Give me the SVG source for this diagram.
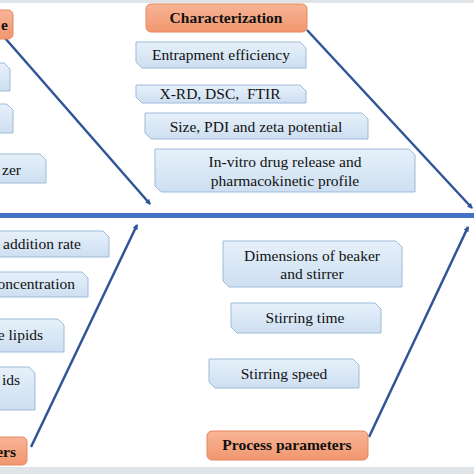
<svg xmlns="http://www.w3.org/2000/svg" width="474" height="474" viewBox="0 0 474 474">
<defs>
<linearGradient id="gBlue" x1="0" y1="0" x2="0" y2="1">
<stop offset="0" stop-color="#E6F0FA"/>
<stop offset="1" stop-color="#CEDFF1"/>
</linearGradient>
<linearGradient id="gOrange" x1="0" y1="0" x2="0" y2="1">
<stop offset="0" stop-color="#F8B496"/>
<stop offset="1" stop-color="#F1976F"/>
</linearGradient>
<marker id="arr" viewBox="0 0 10 10" refX="8" refY="5" markerWidth="2.2" markerHeight="2.2" orient="auto">
<path d="M0,0 L10,5 L0,10 Z" fill="#2F5597"/>
</marker>
</defs>
<style>
.box{fill:url(#gBlue);stroke:#9DBBDA;stroke-width:1}
.cat{fill:url(#gOrange);stroke:#E8865E;stroke-width:1}
.b{font-weight:bold}
.c{text-anchor:middle}
.e{text-anchor:end}
.bone{stroke:#2F5597;stroke-width:2.5;fill:none;marker-end:url(#arr)}
</style>
<rect x="0" y="0" width="474" height="474" fill="#FFFFFF"/>
<rect x="0" y="0" width="474" height="3" fill="#DFE4E8"/>
<rect x="0" y="467" width="474" height="7" fill="#DFE4E8"/>

<g id="connectors">
<line x1="0" y1="215.5" x2="474" y2="215.5" stroke="#4472C4" stroke-width="5"/>
<line x1="5" y1="38" x2="150" y2="204" class="bone"/>
<line x1="307" y1="30" x2="472" y2="208" class="bone"/>
<line x1="31" y1="447" x2="137" y2="225" class="bone"/>
<line x1="369" y1="437" x2="468" y2="227" class="bone"/>
</g>

<g font-family="'Liberation Serif', 'Times New Roman', Tinos, 'DejaVu Serif', serif" font-size="15.5" fill="#111111">
<g id="cat-topleft">
<rect x="-60" y="10" width="73" height="29" rx="5" class="cat"/>
<text x="8" y="30" class="b e">e</text>
</g>
<g id="cat-characterization">
<rect x="146" y="4" width="161" height="28" rx="5" class="cat"/>
<text x="226" y="23" class="b c">Characterization</text>
</g>
<g id="cat-bottomleft">
<rect x="-60" y="437" width="87" height="28" rx="5" class="cat"/>
<text x="16" y="457" class="b e">ers</text>
</g>
<g id="cat-process">
<rect x="207" y="431" width="161" height="29" rx="5" class="cat"/>
<text x="287" y="450" class="b c">Process parameters</text>
</g>

<g id="tl-box1">
<path d="M-60,63 H4 L10,69 V91 H-54 L-60,85 Z" class="box"/>
</g>
<g id="tl-box2">
<path d="M-60,104 H7 L13,110 V133 H-54 L-60,127 Z" class="box"/>
</g>
<g id="tl-box3">
<path d="M-60,154 H40 L46,160 V183 H-54 L-60,177 Z" class="box"/>
<text x="21" y="175" class="e">zer</text>
</g>

<g id="entrapment">
<path d="M136,42 H300 L306,48 V68 H142 L136,62 Z" class="box"/>
<text x="221" y="60" class="c">Entrapment efficiency</text>
</g>
<g id="xrd">
<path d="M136,85 H300 L306,91 V103 H142 L136,97 Z" class="box"/>
<text x="220" y="99" class="c" xml:space="preserve">X-RD, DSC,  FTIR</text>
</g>
<g id="size">
<path d="M145,113 H362 L368,119 V139 H151 L145,133 Z" class="box"/>
<text x="256" y="132" class="c">Size, PDI and zeta potential</text>
</g>
<g id="invitro">
<path d="M155,149 H409 L415,155 V192 H161 L155,186 Z" class="box"/>
<text x="285" y="167" class="c">In-vitro drug release and</text>
<text x="285" y="186" class="c">pharmacokinetic profile</text>
</g>

<g id="bl-box1">
<path d="M-60,231 H103 L109,237 V257 H-54 L-60,251 Z" class="box"/>
<text x="81" y="249" class="e">addition rate</text>
</g>
<g id="bl-box2">
<path d="M-60,272 H82 L88,278 V297 H-54 L-60,291 Z" class="box"/>
<text x="75" y="289" class="e">oncentration</text>
</g>
<g id="bl-box3">
<path d="M-60,319 H58 L64,325 V352 H-54 L-60,346 Z" class="box"/>
<text x="43" y="340" class="e">e lipids</text>
</g>
<g id="bl-box4">
<path d="M-60,367 H29 L35,373 V410 H-54 L-60,404 Z" class="box"/>
<text x="20" y="385" class="e">ids</text>
</g>

<g id="dimensions">
<path d="M223,241 H396 L402,247 V287 H229 L223,281 Z" class="box"/>
<text x="312" y="261" class="c">Dimensions of beaker</text>
<text x="312" y="279" class="c">and stirrer</text>
</g>
<g id="stirring-time">
<path d="M231,303 H375 L381,309 V333 H237 L231,327 Z" class="box"/>
<text x="305" y="323" class="c">Stirring time</text>
</g>
<g id="stirring-speed">
<path d="M209,359 H353 L359,365 V388 H215 L209,382 Z" class="box"/>
<text x="284" y="379" class="c">Stirring speed</text>
</g>
</g>
</svg>
